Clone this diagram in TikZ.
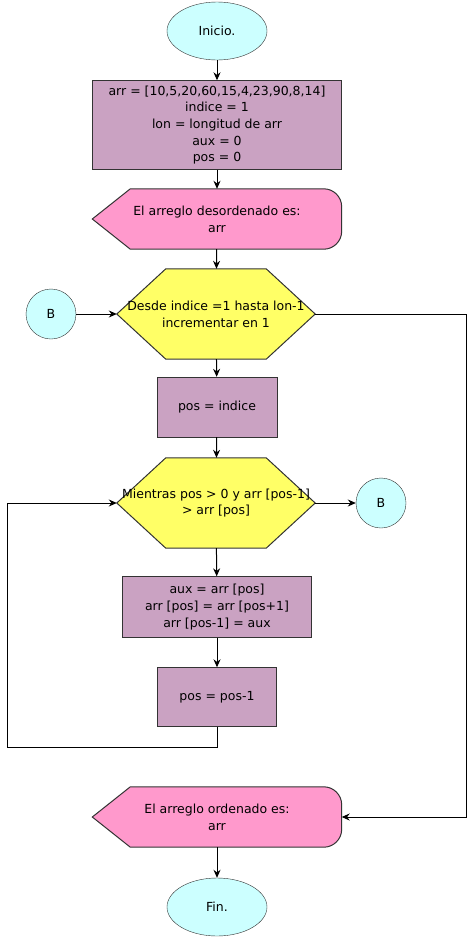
\documentclass[tikz,border=0pt]{standalone}
\usepackage{fontspec}
\setmainfont{DejaVu Sans}
\usepackage{tikz}
\usetikzlibrary{shapes.geometric, arrows.meta, positioning, backgrounds, calc}
\usepackage{xcolor}
\definecolor{flowCyan}  {HTML}{CCFFFF}
\definecolor{flowMauve} {HTML}{CAA2C2}
\definecolor{flowPink}  {HTML}{FF99CC}
\definecolor{flowYellow}{HTML}{FFFF66}
\definecolor{flowLine}  {HTML}{333333}
\tikzset{
  terminal/.style = {ellipse, draw=flowLine, fill=flowCyan,
                     minimum width=100pt, minimum height=58pt},
  proc/.style     = {rectangle, draw=flowLine, fill=flowMauve, align=center,
                     inner sep=2pt},
  showbox/.style  = {rectangle, minimum width=249pt, minimum height=60pt,
                     align=center, inner sep=0pt},
  hexbox/.style   = {rectangle, minimum width=198pt, minimum height=90pt,
                     align=center, inner sep=0pt},
  link/.style     = {circle, draw=flowLine, fill=flowCyan, minimum size=50pt},
  arrow/.style    = {-{Stealth[length=8pt,width=7pt]}, line width=1pt, color=black},
  shapeline/.style= {draw=flowLine, line width=1pt},
}

\begin{document}
\begin{tikzpicture}[
  x=1pt, y=-1pt,
  every node/.style={font=\fontsize{12.5}{16.7}\selectfont},
]
\useasboundingbox (0,0) rectangle (474,937);

% Nodes
\node[terminal] (inicio) at (217,31)  {Inicio.};
\node[proc, minimum width=249pt, minimum height=89pt] (datos) at (217,125)
  {arr = [10,5,20,60,15,4,23,90,8,14]\\ indice = 1\\ lon = longitud de arr\\ aux = 0\\ pos = 0};
\node[showbox] (msg1) at (217,219) {El arreglo desordenado es:\\ arr};
\node[hexbox] (ciclo1) at (216,314) {Desde indice =1 hasta lon-1\\ incrementar en 1};
\node[link] (b1) at (51,314) {B};
\node[proc, minimum width=120pt, minimum height=60pt] (asig) at (217,407) {pos = indice};
\node[hexbox] (ciclo2) at (216,503) {Mientras pos > 0 y arr [pos-1]\\ > arr [pos]};
\node[link] (b2) at (381,503) {B};
\node[proc, minimum width=189pt, minimum height=61pt] (swap) at (217,607)
  {aux = arr [pos]\\ arr [pos] = arr [pos+1]\\ arr [pos-1] = aux};
\node[proc, minimum width=119pt, minimum height=59pt] (dec) at (217,697) {pos = pos-1};
\node[showbox] (msg2) at (217,817) {El arreglo ordenado es:\\ arr};
\node[terminal] (fin) at (217,907) {Fin.};

% Shapes behind the text
\begin{scope}[on background layer]
  \foreach \h in {ciclo1,ciclo2}
    \draw[shapeline, fill=flowYellow] (\h.west) -- ([xshift=49pt]\h.north west)
      -- ([xshift=-49pt]\h.north east) -- (\h.east)
      -- ([xshift=-49pt]\h.south east) -- ([xshift=49pt]\h.south west) -- cycle;
  \foreach \m in {msg1,msg2}
    \draw[shapeline, fill=flowPink] (\m.west) -- ([xshift=38pt]\m.north west)
      -- ([xshift=-18pt]\m.north east) arc[start angle=90, end angle=0, radius=18pt]
      -- ([yshift=18pt]\m.south east) arc[start angle=0, end angle=-90, radius=18pt]
      -- ([xshift=38pt]\m.south west) -- cycle;
\end{scope}

% Connectors
\coordinate (derecha) at (466,314);
\coordinate (vuelta)  at (7,747);
\draw[arrow] (inicio) -- (datos);
\draw[arrow] (datos) -- (msg1);
\draw[arrow] (msg1) -- (ciclo1);
\draw[arrow] (b1) -- (ciclo1.west);
\draw[arrow] (ciclo1.east) -- (derecha) |- (msg2.east);
\draw[arrow] (ciclo1) -- (asig);
\draw[arrow] (asig) -- (ciclo2);
\draw[arrow] (ciclo2.east) -- (b2);
\draw[arrow] (ciclo2) -- (swap);
\draw[arrow] (swap) -- (dec);
\draw[arrow] (dec.south) |- (vuelta) |- (ciclo2.west);
\draw[arrow] (msg2) -- (fin);

\end{tikzpicture}
\end{document}
